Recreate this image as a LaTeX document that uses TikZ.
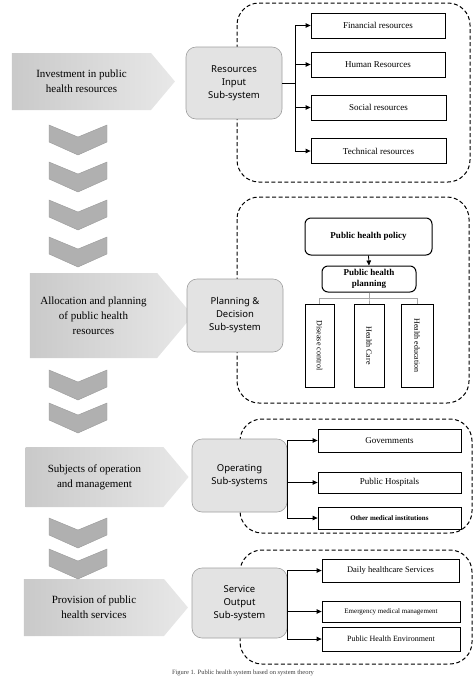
\documentclass[tikz,border=0pt]{standalone}
\usepackage{fontspec}
\setmainfont{Liberation Serif}
\newfontfamily\subsans{Noto Sans}
\usetikzlibrary{arrows.meta,shapes.symbols}

\tikzset{
  flow/.style={signal, signal to=east, signal pointer angle=100, left color=gray!42, right color=gray!18, draw=none, align=center, inner sep=0pt, font=\fontsize{11}{15}\selectfont},
  chev/.style={fill=gray!62, draw=gray!80, line width=0.4pt},
  subsys/.style={rectangle, rounded corners=10pt, fill=gray!22, draw=gray!75, line width=0.6pt, minimum width=96pt, minimum height=72pt, align=center, font=\subsans\fontsize{9.5}{13}\selectfont},
  group/.style={dash pattern=on 4pt off 2.5pt, line width=1pt, rounded corners=22pt},
  res/.style={rectangle, draw, line width=0.8pt, minimum width=134pt, minimum height=25pt, font=\fontsize{9}{11}\selectfont},
  vbox/.style={rectangle, draw, line width=0.8pt, rotate=-90, minimum width=83pt, font=\fontsize{8}{10}\selectfont},
  conn/.style={line width=0.8pt, -{Triangle[length=5pt,width=4.5pt]}}
}

\begin{document}
\begin{tikzpicture}[x=1pt,y=-1pt]
        \useasboundingbox (0,0) rectangle (474,678);
        % dashed groups
        \draw[group] (237,3) rectangle (470,182);
        \draw[group] (237,197) rectangle (469,403);
        \draw[group] (240,419) rectangle (472,533);
        \draw[group] (240,550) rectangle (472,664);

        \node[flow, minimum width=163pt, minimum height=57pt] (inv) at (81.5,81.5) {Investment in public\\health resources};
        \node[flow, minimum width=163pt, minimum height=85pt] (alloc) at (93.5,315.5) {Allocation and planning\\of public health\\resources};
        \node[flow, minimum width=163pt, minimum height=60pt] (oper) at (94.5,477) {Subjects of operation\\and management};
        \node[flow, minimum width=164pt, minimum height=57pt] (prov) at (94,607.5) {Provision of public\\health services};
        \foreach \y in {125,162,200,237,370,403,518,549}
            \draw[chev] (49,\y) -- (78,\y+12) -- (107,\y) -- (107,\y+17) -- (78,\y+30) -- (49,\y+17) -- cycle;

        \node[subsys] (sub1) at (234,83) {Resources\\Input\\Sub-system};
        \node[subsys, minimum height=73pt] (sub2) at (235,315.5) {Planning \&\\Decision\\Sub-system};
        \node[subsys, minimum width=95pt, minimum height=73pt] (sub3) at (239.5,475.5) {Operating\\Sub-systems};
        \node[subsys, minimum width=95pt, minimum height=70pt] (sub4) at (239.5,603) {Service\\Output\\Sub-system};

        \node[res] (fin) at (378,25.5) {Financial resources};
        \node[res] (hum) at (378,64.5) {Human Resources};
        \node[res, minimum width=135pt] (soc) at (378.5,107.5) {Social resources};
        \node[res, minimum width=135pt] (tec) at (378.5,151) {Technical resources};
        \foreach \n in {fin,hum,soc,tec}
            \draw[conn] (sub1.east) -- ++(13,0) |- (\n.west);

        \node[rectangle, rounded corners=6pt, draw, line width=1pt, minimum width=127pt, minimum height=37pt, font=\bfseries\fontsize{9}{11}\selectfont] (pol) at (368.5,236.5) {Public health policy};
        \node[rectangle, rounded corners=6pt, draw, line width=1pt, minimum width=94pt, minimum height=26pt, align=center, font=\bfseries\fontsize{9}{11}\selectfont] (plan) at (369,279) {Public health\\planning};
        \draw[conn] (pol.south) -- (plan.north);
        \node[vbox, minimum height=29pt] (dis) at (319.5,345.5) {Disease control};
        \node[vbox, minimum height=30pt] (care) at (369,345.5) {Health Care};
        \node[vbox, minimum height=32pt] (edu) at (417,345.5) {Health education};
        \foreach \n in {dis,care,edu}
            \draw[gray!70, line width=0.5pt] (plan.south) -- ++(0,6) -| (\n.west);

        \node[res, minimum width=143pt, minimum height=23pt] (gov) at (389.5,440.5) {Governments};
        \node[res, minimum width=143pt, minimum height=21pt] (hosp) at (389.5,482.5) {Public Hospitals};
        \node[res, minimum width=143pt, minimum height=22pt, font=\bfseries\fontsize{7}{9}\selectfont] (other) at (389.5,518) {Other medical institutions};
        \foreach \n in {gov,hosp,other}
            \draw[conn] (sub3.east) |- (\n.west);

        \node[res, minimum width=137pt, minimum height=23pt, font=\fontsize{8.5}{10}\selectfont] (daily) at (390.5,570.5) {Daily healthcare Services};
        \node[res, minimum width=138pt, minimum height=21pt, font=\fontsize{7}{9}\selectfont] (emerg) at (391,611.5) {Emergency medical management};
        \node[res, minimum width=138pt, minimum height=24pt, font=\fontsize{8}{10}\selectfont] (env) at (391,639) {Public Health Environment};
        \foreach \n in {daily,emerg,env}
            \draw[conn] (sub4.east) |- (\n.west);

        \node[text=black!75, inner sep=0pt, font=\fontsize{6.5}{7}\selectfont] (cap) at (243,672.5) {Figure 1. Public health system based on system theory};
\end{tikzpicture}
\end{document}
